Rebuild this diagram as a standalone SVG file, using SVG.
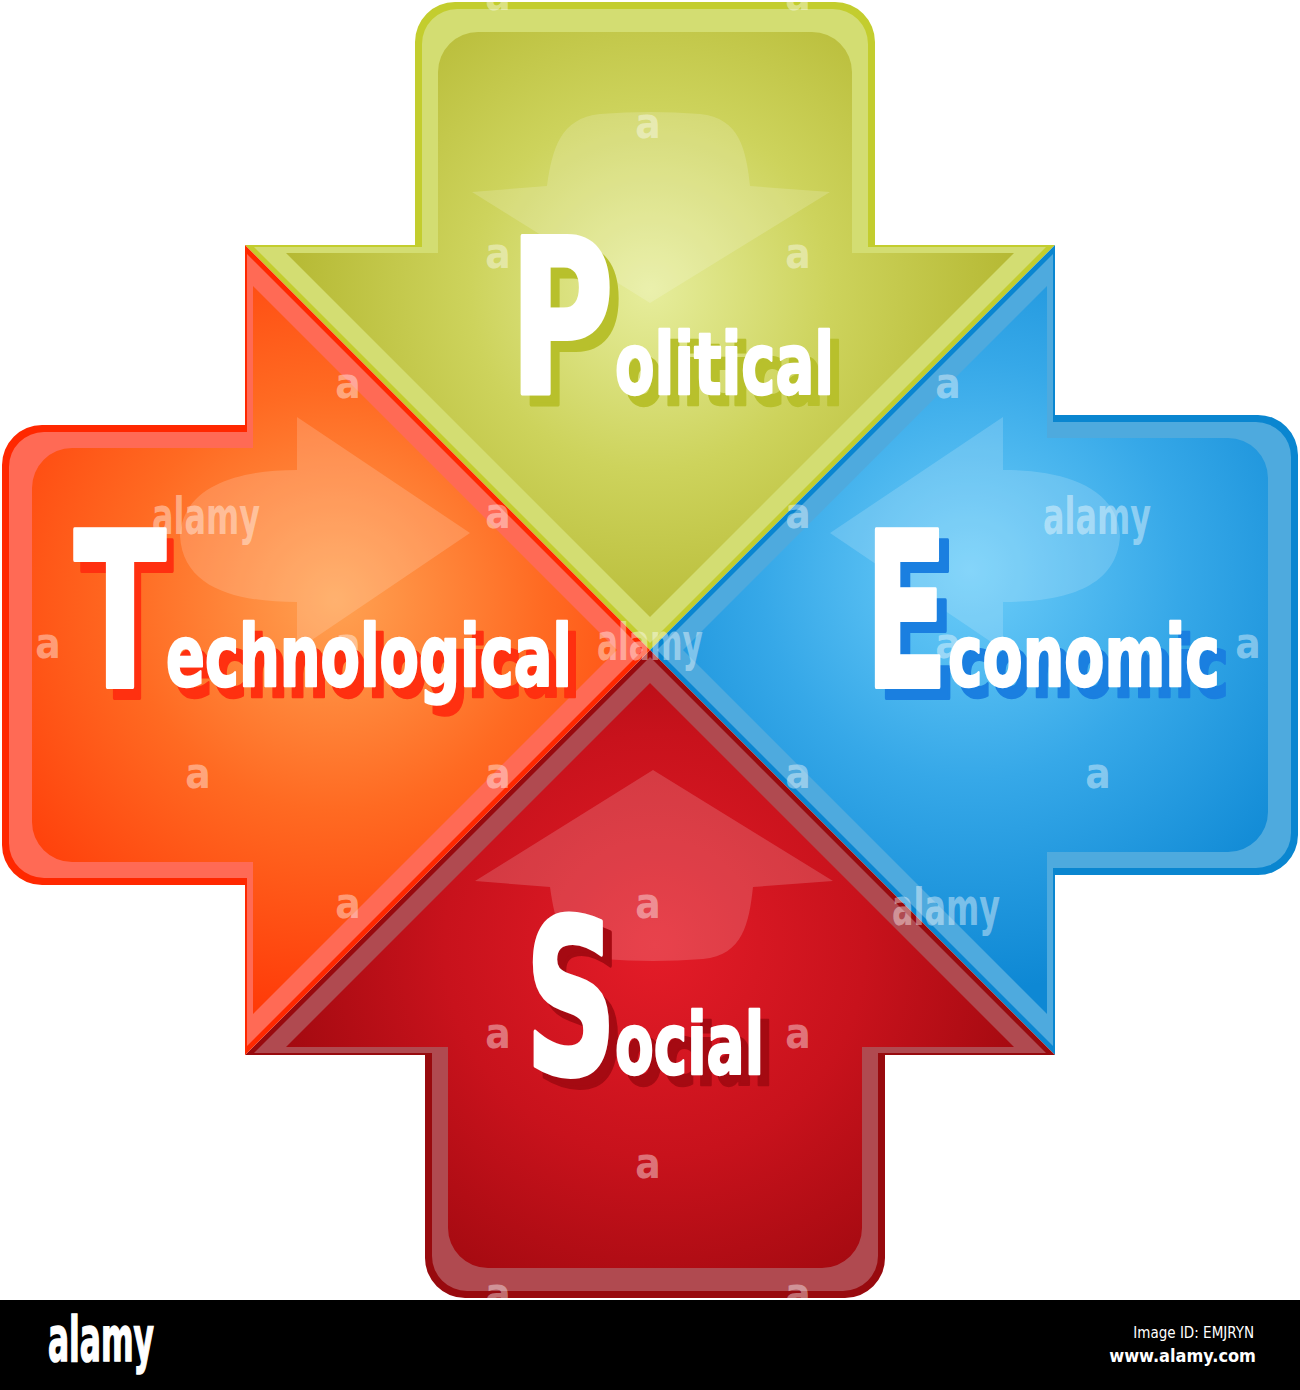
<svg xmlns="http://www.w3.org/2000/svg" xmlns:xlink="http://www.w3.org/1999/xlink" width="1300" height="1390" viewBox="0 0 1300 1390">
<style>
.big{font-family:"Liberation Sans Narrow","DejaVu Sans Condensed","Liberation Sans",sans-serif;font-weight:bold;font-size:216px;stroke-width:4px;stroke-linejoin:round}
.small{font-family:"Liberation Sans Narrow","DejaVu Sans Condensed","Liberation Sans",sans-serif;font-weight:bold;font-size:86px;stroke-width:2.4px;stroke-linejoin:round}
.w{fill:#ffffff;stroke:#ffffff}
.ghost{fill:#ffffff;fill-opacity:0.17}
.wm{font-family:"Liberation Sans Narrow","DejaVu Sans Condensed","Liberation Sans",sans-serif;font-weight:bold;fill:#ffffff;fill-opacity:0.42;text-anchor:middle}
.wa{font-size:42px}
.wl{font-size:52px}
.foot{font-family:"Liberation Sans Narrow","DejaVu Sans Condensed","Liberation Sans",sans-serif;fill:#ffffff}
</style>
<defs>
<path id="arOuter" d="M 415,245 V 42 A 40 40 0 0 1 455,2 H 835 A 40 40 0 0 1 875,42 V 245 H 1055 L 650,650 L 245,245 Z"/>
<path id="arBand" d="M 422,247 V 44 A 35 35 0 0 1 457,9 H 833 A 35 35 0 0 1 868,44 V 247 H 1046 L 650,643 L 254,247 Z"/>
<path id="arFill" d="M 438,253 V 72 A 40 40 0 0 1 478,32 H 812 A 40 40 0 0 1 852,72 V 253 H 1014 L 650,617 L 286,253 Z"/>
<radialGradient id="gP" gradientUnits="userSpaceOnUse" cx="650" cy="290" r="400">
<stop offset="0" stop-color="#e6ed9c"/><stop offset="0.45" stop-color="#cdd35c"/><stop offset="1" stop-color="#b1b42c"/>
</radialGradient>
<radialGradient id="gT" gradientUnits="userSpaceOnUse" cx="700" cy="335" r="420">
<stop offset="0" stop-color="#ffa252"/><stop offset="0.5" stop-color="#ff6a22"/><stop offset="1" stop-color="#ff3a08"/>
</radialGradient>
<radialGradient id="gE" gradientUnits="userSpaceOnUse" cx="570" cy="330" r="420">
<stop offset="0" stop-color="#6ccdf9"/><stop offset="0.5" stop-color="#36a8e8"/><stop offset="1" stop-color="#0e88d4"/>
</radialGradient>
<radialGradient id="gS" gradientUnits="userSpaceOnUse" cx="645" cy="355" r="420">
<stop offset="0" stop-color="#e41c28"/><stop offset="0.5" stop-color="#c8121c"/><stop offset="1" stop-color="#9c080e"/>
</radialGradient>
<path id="ghostV" d="M 472,192 L 547,186 C 552,150 560,118 600,114 Q 650,110 700,114 C 740,118 746,150 750,186 L 830,192 L 650,303 Z"/>
<path id="ghostH" d="M 297,417 L 470,533 L 297,650 L 297,602 C 240,602 183,590 180,536 C 183,485 240,470 297,470 Z"/>
</defs>

<rect x="0" y="0" width="1300" height="1390" fill="#ffffff"/>

<g id="political-shape">
<use xlink:href="#arOuter" fill="#c3cd2e"/>
<use xlink:href="#arBand" fill="#d3dd72"/>
<use xlink:href="#arFill" fill="url(#gP)"/>
<use xlink:href="#ghostV" class="ghost"/>
</g>
<g id="economic-shape" transform="rotate(90 650 650)">
<use xlink:href="#arOuter" fill="#0a86d0"/>
<use xlink:href="#arBand" fill="#4eaade"/>
<use xlink:href="#arFill" fill="url(#gE)"/>
</g>
<g id="social-shape" transform="rotate(180 650 650)">
<use xlink:href="#arOuter" fill="#980a0e"/>
<use xlink:href="#arBand" fill="#b04a50"/>
<use xlink:href="#arFill" fill="url(#gS)"/>
</g>
<g id="technological-shape" transform="rotate(-90 650 650)">
<use xlink:href="#arOuter" fill="#ff2800"/>
<use xlink:href="#arBand" fill="#ff6a55"/>
<use xlink:href="#arFill" fill="url(#gT)"/>
</g>
<use xlink:href="#ghostV" class="ghost" transform="translate(3,1073) scale(1,-1)"/>
<use xlink:href="#ghostH" class="ghost"/>
<use xlink:href="#ghostH" class="ghost" transform="translate(1300,0) scale(-1,1)"/>

<g id="watermarks" class="wm">
<text class="wa" x="498" y="10">a</text><text class="wa" x="798" y="10">a</text>
<text class="wa" x="648" y="138">a</text>
<text class="wa" x="498" y="268">a</text><text class="wa" x="798" y="268">a</text>
<text class="wa" x="348" y="398">a</text><text class="wa" x="948" y="398">a</text>
<text class="wa" x="498" y="528">a</text><text class="wa" x="798" y="528">a</text>
<text class="wa" x="48" y="658">a</text><text class="wa" x="348" y="658">a</text><text class="wa" x="948" y="658">a</text><text class="wa" x="1248" y="658">a</text>
<text class="wa" x="198" y="788">a</text><text class="wa" x="498" y="788">a</text><text class="wa" x="798" y="788">a</text><text class="wa" x="1098" y="788">a</text>
<text class="wa" x="348" y="918">a</text><text class="wa" x="648" y="918">a</text>
<text class="wa" x="498" y="1048">a</text><text class="wa" x="798" y="1048">a</text>
<text class="wa" x="648" y="1178">a</text>
<text class="wa" x="498" y="1308">a</text><text class="wa" x="798" y="1308">a</text>
</g>

<g id="political">
<text class="big" x="518" y="405" fill="#b8c02c" stroke="#b8c02c" textLength="105" lengthAdjust="spacingAndGlyphs">P</text>
<text class="small" x="624" y="405" fill="#b8c02c" stroke="#b8c02c" textLength="219" lengthAdjust="spacingAndGlyphs">olitical</text>
<text class="big w" x="509" y="394" textLength="105" lengthAdjust="spacingAndGlyphs">P</text>
<text class="small w" x="615" y="394" textLength="219" lengthAdjust="spacingAndGlyphs">olitical</text>
</g>
<g id="technological">
<text class="big" x="81" y="698" fill="#ff3010" stroke="#ff3010" textLength="92" lengthAdjust="spacingAndGlyphs">T</text>
<text class="small" x="174" y="697" fill="#ff3010" stroke="#ff3010" textLength="406" lengthAdjust="spacingAndGlyphs">echnological</text>
<text class="big w" x="74" y="687" textLength="92" lengthAdjust="spacingAndGlyphs">T</text>
<text class="small w" x="166" y="686" textLength="406" lengthAdjust="spacingAndGlyphs">echnological</text>
</g>
<g id="economic">
<text class="big" x="875" y="698" fill="#1a7fe0" stroke="#1a7fe0" textLength="83" lengthAdjust="spacingAndGlyphs">E</text>
<text class="small" x="957" y="697" fill="#1a7fe0" stroke="#1a7fe0" textLength="272" lengthAdjust="spacingAndGlyphs">conomic</text>
<text class="big w" x="865" y="687" textLength="83" lengthAdjust="spacingAndGlyphs">E</text>
<text class="small w" x="948" y="686" textLength="272" lengthAdjust="spacingAndGlyphs">conomic</text>
</g>
<g id="social">
<text class="big" x="534" y="1085" fill="#a50a12" stroke="#a50a12" textLength="92" lengthAdjust="spacingAndGlyphs">S</text>
<text class="small" x="624" y="1085" fill="#a50a12" stroke="#a50a12" textLength="149" lengthAdjust="spacingAndGlyphs">ocial</text>
<text class="big w" x="525" y="1074" textLength="92" lengthAdjust="spacingAndGlyphs">S</text>
<text class="small w" x="615" y="1074" textLength="149" lengthAdjust="spacingAndGlyphs">ocial</text>
</g>

<g id="watermark-words" class="wm">
<text class="wl" x="206" y="534" textLength="108" lengthAdjust="spacingAndGlyphs">alamy</text>
<text class="wl" x="1097" y="534" textLength="108" lengthAdjust="spacingAndGlyphs">alamy</text>
<text class="wl" x="650" y="660" textLength="106" lengthAdjust="spacingAndGlyphs">alamy</text>
<text class="wl" x="946" y="925" textLength="108" lengthAdjust="spacingAndGlyphs">alamy</text>
</g>

<g id="footer">
<rect x="0" y="1300" width="1300" height="90" fill="#000000"/>
<text class="foot" x="48" y="1361" font-size="62" font-weight="bold" stroke="#ffffff" stroke-width="1.5" textLength="106" lengthAdjust="spacingAndGlyphs">alamy</text>
<text class="foot" x="1254" y="1338" font-size="15" text-anchor="end">Image ID: EMJRYN</text>
<text class="foot" x="1256" y="1362" font-size="18" font-weight="bold" text-anchor="end">www.alamy.com</text>
</g>
</svg>
